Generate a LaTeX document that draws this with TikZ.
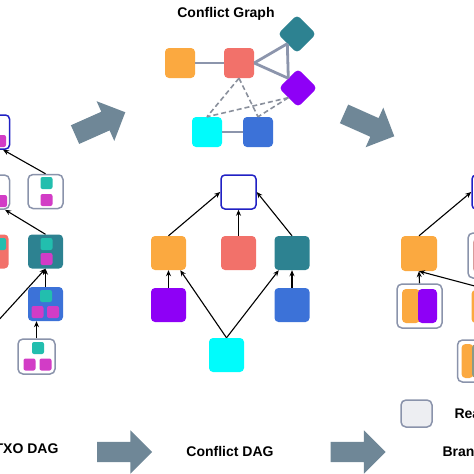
\documentclass[tikz,border=0pt]{standalone}
\usepackage{fontspec}
\usepackage{tikz}
\usetikzlibrary{arrows.meta, positioning, calc, shapes.arrows}
\newfontfamily\labelfont{Liberation Sans}
\definecolor{corange}{HTML}{FBA940}
\definecolor{csalmon}{HTML}{F2716A}
\definecolor{cteal}{HTML}{2D8291}
\definecolor{cpurple}{HTML}{8E00F6}
\definecolor{ccyan}{HTML}{00FCFC}
\definecolor{cblue}{HTML}{3C72D8}
\definecolor{cdarkblue}{HTML}{2020C4}
\definecolor{cmagenta}{HTML}{D23CC6}
\definecolor{cmint}{HTML}{22BEAE}
\definecolor{cframe}{HTML}{8A93AB}
\definecolor{cedge}{HTML}{8C95AC}
\definecolor{cdash}{HTML}{8A909C}
\definecolor{cbig}{HTML}{6F8797}
\definecolor{cpink}{HTML}{D99C9C}
\definecolor{colive}{HTML}{8A9A88}
\definecolor{clegend}{HTML}{EDEEF2}

\begin{document}
\begin{tikzpicture}[x=1pt, y=-1pt,
  tx/.style={rectangle,rounded corners=4pt,minimum width=35pt,minimum height=34pt,inner sep=0pt},
  cg/.style={rectangle,rounded corners=4pt,minimum size=30pt,inner sep=0pt},
  cgd/.style={cg,minimum size=27pt,rotate=45},
  root/.style={tx,draw=cdarkblue,line width=1.5pt,fill=white},
  holder/.style={tx,draw=cframe,line width=1.5pt,fill=white,rounded corners=5pt},
  small/.style={rectangle,rounded corners=2pt,minimum size=12pt,inner sep=0pt},
  lbl/.style={font=\labelfont\bfseries\fontsize{14}{16}\selectfont},
  bigarrow/.style={single arrow,fill=cbig,inner sep=10pt,minimum height=55pt,
                   single arrow head extend=11.5pt},
  link/.style={->,line width=1.1pt},
  solidedge/.style={cedge,line width=2.8pt},
  dashedge/.style={cdash,line width=1.6pt,dash pattern=on 5pt off 3pt},
  >={Stealth[length=6pt,width=5pt]}
]
  \useasboundingbox (0,0) rectangle (474,474);
  \clip (0,0) rectangle (474,474);

  % Conflict graph
  \node[lbl] (cgtitle) at (226,14) {Conflict Graph};
  \node[cg,fill=corange]  (cgO) at (180,63) {};
  \node[cg,fill=csalmon]  (cgS) at (239,63) {};
  \node[cgd,fill=cteal]   (cgT) at (297,34) {};
  \node[cgd,fill=cpurple] (cgP) at (298,88) {};
  \node[cg,fill=ccyan]    (cgC) at (207,132) {};
  \node[cg,fill=cblue]    (cgB) at (258,132) {};
  \draw[solidedge] (cgO) -- (cgS);
  \draw[solidedge] (cgS.east) -- (cgT.west);
  \draw[solidedge] (cgS.east) -- (cgP.north);
  \draw[solidedge] (cgT.west) -- (cgP.north);
  \draw[solidedge] (cgC) -- (cgB);
  \draw[dashedge] (cgS.south) -- (cgC.north);
  \draw[dashedge] (cgS.south) -- (cgB.north);
  \draw[dashedge] (cgP.west) -- (cgC.north);
  \draw[dashedge] (cgP.west) -- (cgB.north);

  % UTXO DAG (cut off at the left)
  \node[root]   (u1)  at (-8,132) {};
  \node[small,fill=cmagenta] (u1m) at (0,141) {};
  \node[holder] (u2l) at (-8,192) {};
  \node[small,fill=cmagenta] (u2lm) at (1,201) {};
  \node[holder] (u2r) at (45.5,191.5) {};
  \node[small,fill=cmint]    (u2rt) at (46.5,183) {};
  \node[small,fill=cmagenta] (u2rm) at (46.5,200) {};
  \node[tx,fill=csalmon] (u3l) at (-9,251.5) {};
  \node[small,fill=cmint]    (u3lt) at (0,244) {};
  \node[tx,fill=cteal]   (u3r) at (45.5,251.5) {};
  \node[small,fill=cmint]    (u3rt) at (46.5,244) {};
  \node[small,fill=cmagenta] (u3rm) at (46.5,259) {};
  \node[tx,fill=cblue]   (u4) at (45.5,304) {};
  \node[small,fill=cmint]    (u4t)  at (46,296) {};
  \node[small,fill=cmagenta] (u4m1) at (37.5,312) {};
  \node[small,fill=cmagenta] (u4m2) at (53,312) {};
  \node[holder,minimum width=37pt,minimum height=35pt] (u5) at (36.5,356.5) {};
  \node[small,fill=cmint]    (u5t)  at (38,348) {};
  \node[small,fill=cmagenta] (u5m1) at (29.5,364.5) {};
  \node[small,fill=cmagenta] (u5m2) at (45.5,364.5) {};
  \coordinate (uin) at (-25,346);
  \draw[link] (u2r.north) -- ([xshift=11pt]u1.south);
  \draw[link] (u3r.north) -- ([xshift=13pt]u2l.south);
  \draw[link] (u4.north) -- (u3r.south);
  \draw[link] (uin) -- (u3r.south);
  \draw[link] (u5.north) -- (u5.north |- u4.south);

  % Conflict DAG
  \node[root]            (dR) at (238.5,192) {};
  \node[tx,fill=corange] (dO) at (168.5,253) {};
  \node[tx,fill=csalmon] (dS) at (238.5,253) {};
  \node[tx,fill=cteal]   (dT) at (292,253) {};
  \node[tx,fill=cpurple] (dP) at (168.5,305) {};
  \node[tx,fill=cblue]   (dB) at (292,305) {};
  \node[tx,fill=ccyan]   (dC) at (226.5,355) {};
  \draw[link] (dO.north) -- (dR.west);
  \draw[link] (dS.north) -- (dR.south);
  \draw[link] (dT.north) -- (dR.east);
  \draw[link] (dP.north) -- (dO.south);
  \draw[link] (dB.north) -- (dT.south);
  \draw[link] (dC.north) -- (dO);
  \draw[link] (dC.north) -- (dT);

  % Branch DAG (cut off at the right)
  \node[root]            (bR) at (489.5,192) {};
  \node[tx,fill=corange,minimum width=36pt,minimum height=35pt] (bO) at (419,253.5) {};
  \node[holder,minimum width=45pt,minimum height=45pt] (bS) at (490.5,255.5) {};
  \node[tx,fill=cpink]   (bSi) at (490.5,255.5) {};
  \node[holder,minimum width=45pt,minimum height=44pt] (bOP) at (419.5,306) {};
  \node[tx,fill=corange,minimum width=18pt] (bOPo) at (411,306) {};
  \node[tx,fill=cpurple,minimum width=19pt] (bOPp) at (427.5,306) {};
  \node[tx,fill=corange,minimum height=33pt] (bO2) at (489,306.5) {};
  \node[holder,minimum width=45pt,minimum height=42pt] (bOG) at (480,361) {};
  \node[tx,fill=corange,minimum width=12pt] (bOGo) at (467.5,361) {};
  \node[tx,fill=colive,minimum width=17pt]  (bOGg) at (480.5,361) {};
  \draw[link] (bO.north) -- (bR.west);
  \draw[link] (bO2.north) -- (bO.south);
  \draw[link] (bOP.north) -- (bO.south);

  % legend
  \node[holder,fill=clegend,minimum width=31pt,minimum height=27pt] (leg) at (416.5,413.5) {};
  \node[lbl,anchor=west] (legtext) at (451,413) {Real branch};

  % big arrows
  \node[bigarrow,rotate=24]  (ua1) at (95.5,125.5) {};
  \node[bigarrow,rotate=-24] (ua2) at (364.5,123) {};
  \node[bigarrow] (ba1) at (119.5,452) {};
  \node[bigarrow] (ba2) at (353,452) {};

  % titles
  \node[lbl,anchor=east] (tutxo) at (62,449) {UTXO DAG};
  \node[lbl] (tconf) at (230,451) {Conflict DAG};
  \node[lbl,anchor=west] (tbranch) at (439,451) {Branch DAG};
\end{tikzpicture}
\end{document}
